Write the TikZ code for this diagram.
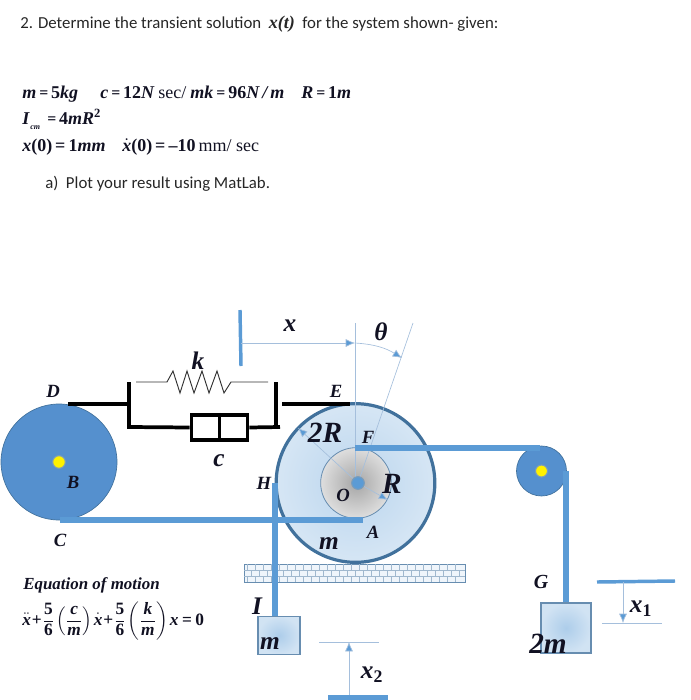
\documentclass[tikz,border=0pt]{standalone}
\usepackage{amsmath}
\usepackage{fontspec}
\setmainfont{Carlito}
\newfontfamily\serf{Liberation Serif}
\usetikzlibrary{arrows.meta}
\definecolor{rope}{HTML}{5B9BD5}
\definecolor{ring}{HTML}{41719C}
\definecolor{discblue}{HTML}{5590CE}
\definecolor{thin}{HTML}{A5BFDC}
\definecolor{lab}{HTML}{111122}
\newcommand{\bi}[1]{{\serf\bfseries\itshape #1}}
\newcommand{\rg}[1]{{\serf #1}}
\newcommand{\mv}[1]{\text{\bi{#1}}}
\newcommand{\nb}[1]{\text{\serf\bfseries #1}}
\tikzset{
  para/.style={anchor=base west,inner sep=0pt,font=\fontsize{12.6}{14}\selectfont,text=black!85},
  given/.style={anchor=base west,inner sep=0pt,font=\fontsize{13.5}{15}\selectfont,text=lab},
  lbl/.style={inner sep=0pt,font=\fontsize{14}{16}\selectfont,text=lab},
  biglbl/.style={inner sep=0pt,font=\fontsize{19}{20}\selectfont,text=lab},
  hugelbl/.style={inner sep=0pt,font=\fontsize{22}{24}\selectfont,text=lab},
  wheel/.style={circle,draw=ring,line width=0.5pt,fill=discblue,inner sep=0pt},
  pivot/.style={circle,draw=ring!70,line width=0.8pt,fill=yellow,inner sep=0pt,minimum size=9.5pt},
  block/.style={rectangle,draw=ring!80,line width=0.8pt,inner color=rope!50,outer color=rope!28,inner sep=0pt},
  cord/.style={line width=3.8pt,draw=rope},
  blk/.style={line width=2.8pt,draw=black},
  dimline/.style={line width=0.5pt,draw=thin},
  tipline/.style={-{Latex[length=7pt,width=6pt,fill=rope]},line width=0.5pt,draw=thin},
}
\begin{document}
\begin{tikzpicture}[x=0.75pt,y=-0.75pt]
	\useasboundingbox (0,0) rectangle (690,700);
	%Text
	\node[para] (head) at (20,28) {2. Determine the transient solution\ \ {\fontsize{13.5}{15}\selectfont\bi{x(t)}}\ \ for the system shown- given:};
	\node[given] (g1) at (22,98) {\bi{m}\,=\,\textbf{\serf 5}\bi{kg}};
	\node[given] (g2) at (100,98) {\bi{c}\,=\,\textbf{\serf 12}\bi{N} \rg{sec/} \bi{mk}\,=\,\textbf{\serf 96}\bi{N\,/\,m}};
	\node[given] (g3) at (301,98) {\bi{R}\,=\,\textbf{\serf 1}\bi{m}};
	\node[given] (g4) at (22,124) {\bi{I}};
	\node[given,font=\fontsize{6}{7}\selectfont] (g5) at (30,129) {\bi{cm}};
	\node[given] (g6) at (47,124) {=\,\textbf{\serf 4}\bi{mR}\textsuperscript{\bfseries\serf 2}};
	\node[given] (g7) at (22,151) {\bi{x}\textbf{\serf (0)\,=\,1}\bi{mm}};
	\node[given] (g8) at (122,151) {$\dot{\mv{x}}$\textbf{\serf (0)\,=\,\textendash10}\,\rg{mm/ sec}};
	\node[para] (plot) at (45,188) {a)\ \ Plot your result using MatLab.};
	\node[given,font=\fontsize{12.7}{14}\selectfont] (eqt) at (23,589) {\bi{Equation of motion}};
	\node[given,font=\fontsize{13}{15}\selectfont,anchor=west] (eqn) at (22,621) {$\ddot{\mv{x}}\mkern1mu\nb{+}\mkern1mu\dfrac{\nb{5}}{\nb{6}}\mkern-1mu\left(\dfrac{\mv{c}}{\mv{m}}\right)\mkern-1mu\dot{\mv{x}}\mkern1mu\nb{+}\mkern1mu\dfrac{\nb{5}}{\nb{6}}\mkern-1mu\left(\dfrac{\mv{k}}{\mv{m}}\right)\mkern-1mu\mv{x}\mkern4mu\nb{=}\mkern4mu\nb{0}$};
	%Ground
	\node[rectangle,draw=ring!80,line width=0.7pt,fill=rope!10,inner sep=0pt,minimum width=165.75pt,minimum height=13.5pt] (gnd) at (354.5,573) {};
	\foreach \i in {0,...,26} {
		\draw[ring!50,line width=0.3pt] (247+8*\i,564) -- (247+8*\i,570) (251+8*\i,570) -- (251+8*\i,576) (247+8*\i,576) -- (247+8*\i,582);
	}
	\draw[ring!50,line width=0.3pt] (244,570) -- (465,570) (244,576) -- (465,576);
	%Wheels
	\node[wheel,minimum size=87pt] (drum) at (59,462) {};
	\node[pivot] (b) at (59,462) {};
	\node[circle,draw=ring,line width=2.4pt,inner color=rope!42,outer color=rope!25,inner sep=0pt,minimum size=119pt] (disk) at (355.5,483) {};
	\node[circle,draw=ring!80,line width=0.6pt,inner color=black!35,outer color=black!13,inner sep=0pt,minimum size=53pt] (hub) at (356,483) {};
	\node[wheel,minimum size=37.5pt] (idler) at (541.5,471) {};
	\node[pivot,minimum size=9pt] (g) at (541.5,471) {};
	%Free ends
	\coordinate (dbar) at (68,404);
	\coordinate (sl) at (129,404);
	\coordinate (sa) at (129,382);
	\coordinate (sb) at (129,427);
	\coordinate (ka) at (136,382);
	\coordinate (kb) at (268,382);
	\coordinate (sc) at (276,382);
	\coordinate (sd) at (276,427);
	\coordinate (se) at (280,427);
	\coordinate (ea) at (282,404);
	\coordinate (eb) at (350,404);
	\coordinate (o) at (358,483);
	\coordinate (vtop) at (355,323);
	\coordinate (vbot) at (355,483);
	\coordinate (ttop) at (413,323);
	\coordinate (wa) at (240,310);
	\coordinate (wb) at (241,366);
	\coordinate (wm) at (241,343);
	\coordinate (xend) at (355,343);
	\coordinate (aend) at (402,358);
	\coordinate (rr) at (298,428);
	\coordinate (r) at (388,500);
	\coordinate (fa) at (355,448);
	\coordinate (fb) at (540,448);
	\coordinate (ga) at (566,471);
	\coordinate (ca) at (60,520);
	\coordinate (cb) at (363,520);
	\coordinate (ha) at (275,483);
	%Damper
	\node[rectangle,draw=black,line width=2.8pt,inner sep=0pt,minimum width=42pt,minimum height=19pt] (dash) at (219.5,427.5) {};
	%Masses
	\node[block,minimum width=31.5pt,minimum height=29pt] (m1) at (279,635.5) {};
	\node[block,minimum width=37.5pt,minimum height=37.5pt] (m2) at (566,628) {};
	%Spring and damper lines
	\draw[blk] (dbar) -- (sl);
	\draw[blk] (sa) -- (sb) -- (dash.west);
	\draw[blk] (dash.east) -- (se);
	\draw[blk] (sc) -- (sd);
	\draw[blk] (dash.north) -- (dash.south);
	\draw[blk] (ea) -- (eb);
	\draw[line width=0.7pt,black!80] (ka) -- (167,382) -- (173,371) -- (180,393) -- (187,371) -- (194,393) -- (202,371) -- (209,393) -- (217,371) -- (224,393) -- (231,382) -- (238,382) -- (kb);
	%Thin lines
	\draw[dimline] (vtop) -- (vbot);
	\draw[dimline] (ttop) -- (o);
	\draw[cord,line width=2.6pt] (wa) -- (wb);
	\draw[tipline] (wm) -- (xend);
	\draw[tipline] (xend) to[bend left=14] (aend);
	\draw[tipline] (o) -- (rr);
	\draw[tipline] (o) -- (r);
	\node[circle,draw=ring!70,line width=0.8pt,fill=rope,inner sep=0pt,minimum size=9.5pt] (pin) at (o) {};
	%Ropes
	\draw[cord] (ca) -- (cb);
	\draw[cord] (ha) -- (m1.north -| ha);
	\draw[cord] (fa) -- (fb);
	\draw[cord] (ga) -- (m2.north -| ga);
	%Measures
	\coordinate (ya) at (597,582);
	\coordinate (yb) at (675,581);
	\coordinate (yc) at (623,582);
	\coordinate (yd) at (623,623);
	\coordinate (ye) at (602,623);
	\coordinate (yf) at (662,623);
	\draw[cord,line width=2.6pt] (ya) -- (yb);
	\draw[tipline] (yc) -- (yd);
	\draw[dimline] (ye) -- (yf);
	\coordinate (za) at (319,642);
	\coordinate (zb) at (379,642);
	\coordinate (zc) at (349,642);
	\coordinate (zd) at (349,697);
	\coordinate (ze) at (328,698);
	\coordinate (zf) at (388,698);
	\draw[dimline] (za) -- (zb);
	\draw[tipline] (zd) -- (zc);
	\draw[cord] (ze) -- (zf);
	%Labels
	\node[lbl] (ld) at (53,391) {\bi{D}};
	\node[lbl] (lb) at (73,482) {\bi{B}};
	\node[lbl] (lc) at (60,540) {\bi{C}};
	\node[biglbl] (lk) at (198,361) {\bi{k}};
	\node[biglbl] (lcc) at (219,461) {\bi{c}};
	\node[biglbl] (lx) at (290,326) {\bi{x}};
	\node[biglbl] (lt) at (381,332) {\bi{θ}};
	\node[lbl] (le) at (336,391) {\bi{E}};
	\node[hugelbl] (l2r) at (325,433) {\bi{2R}};
	\node[lbl] (lf) at (368,437) {\bi{F}};
	\node[lbl] (lh) at (264,483) {\bi{H}};
	\node[lbl] (lo) at (343,495) {\bi{O}};
	\node[hugelbl] (lr) at (392,484) {\bi{R}};
	\node[lbl] (la) at (373,532) {\bi{A}};
	\node[biglbl] (lm) at (329,544) {\bi{m}};
	\node[biglbl] (li) at (257,606) {\bi{I}};
	\node[biglbl] (lm1) at (270,644) {\bi{m}};
	\node[biglbl] (lx2) at (372,675) {\bi{x}\textsubscript{\serf\bfseries 2}};
	\node[hugelbl] (l2m) at (548,644) {\bi{2m}};
	\node[lbl,font=\fontsize{15}{16}\selectfont] (lg) at (541,582) {\bi{G}};
	\node[biglbl] (lx1) at (641,609) {\bi{x}\textsubscript{\serf\bfseries 1}};
\end{tikzpicture}
\end{document}
